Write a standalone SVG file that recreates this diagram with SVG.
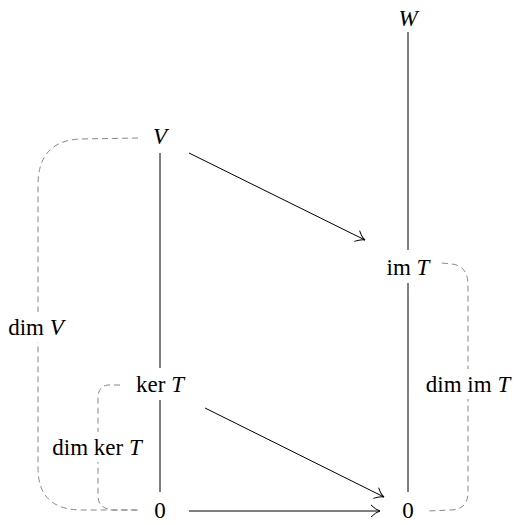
<svg xmlns="http://www.w3.org/2000/svg" width="520" height="525" viewBox="0 0 520 525">
<style>
text{font-family:"Liberation Serif","Times New Roman",serif;font-size:23px;fill:#000;text-anchor:middle}
.i{font-style:italic}
.ln{stroke:#000;stroke-width:1;fill:none}
.ds{stroke:#888;stroke-width:1;fill:none;stroke-dasharray:6 4}
.lb{fill:#fff;stroke:none}
</style>
<defs>
<marker id="ah" markerWidth="12" markerHeight="14" refX="10" refY="7" orient="auto" markerUnits="userSpaceOnUse">
<path d="M1,1 Q6,6 10,7 Q6,8 1,13" fill="none" stroke="#000" stroke-width="1"/>
</marker>
</defs>
<rect width="520" height="525" fill="#fff"/>
<g id="connectors">
<line class="ln" x1="408" y1="32" x2="408" y2="250"/>
<line class="ln" x1="408" y1="283" x2="408" y2="492"/>
<line class="ln" x1="160" y1="153" x2="160" y2="368"/>
<line class="ln" x1="160" y1="400" x2="160" y2="492"/>
<line class="ln" x1="189" y1="153" x2="365" y2="240" marker-end="url(#ah)"/>
<line class="ln" x1="205" y1="408" x2="384" y2="497" marker-end="url(#ah)"/>
<line class="ln" x1="189" y1="511" x2="380" y2="511" marker-end="url(#ah)"/>
<path class="ds" d="M138,138 L80,139 Q38,141 38,185 L38,468 Q38,510 82,510 L138,510"/>
<path class="ds" d="M120,385 L108,385 Q98,386 98,398 L98,496 Q98,509 114,510 L138,510"/>
<path class="ds" d="M442,263 L452,264 Q468,266 468,285 L468,492 Q468,510 450,510 L428,511"/>
</g>
<g id="label-dimV"><rect class="lb" x="4" y="312" width="68" height="30"/><text x="36" y="335">dim <tspan class="i">V</tspan></text></g>
<g id="label-dimkerT"><rect class="lb" x="49" y="432" width="96" height="30"/><text x="97" y="455">dim ker <tspan class="i">T</tspan></text></g>
<g id="label-dimimT"><rect class="lb" x="424" y="369" width="90" height="30"/><text x="468" y="392">dim im <tspan class="i">T</tspan></text></g>
<g id="node-W"><text class="i" x="408" y="26">W</text></g>
<g id="node-V"><text class="i" x="160" y="144">V</text></g>
<g id="node-imT"><text x="408" y="275">im <tspan class="i">T</tspan></text></g>
<g id="node-kerT"><text x="160" y="392">ker <tspan class="i">T</tspan></text></g>
<g id="node-0a"><text x="160" y="518">0</text></g>
<g id="node-0b"><text x="408" y="518">0</text></g>
</svg>
